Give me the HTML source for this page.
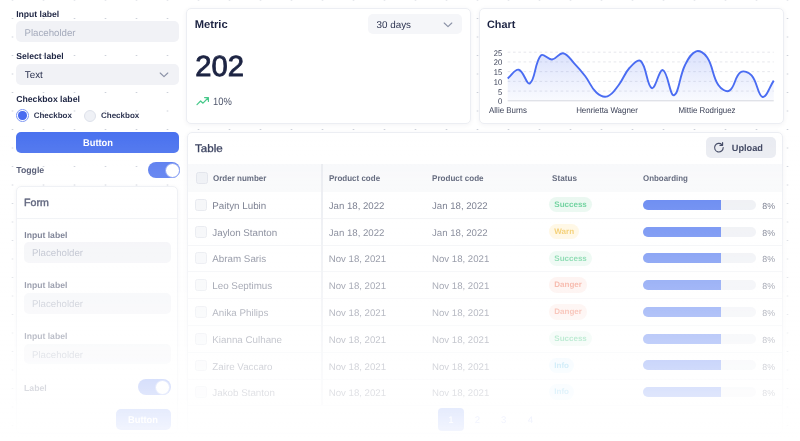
<!DOCTYPE html>
<html><head><meta charset="utf-8"><style>
html,body{margin:0;padding:0}
body{width:800px;height:441px;overflow:hidden;position:relative;background:#fff;font-family:"Liberation Sans",sans-serif;text-rendering:geometricPrecision}
.t{position:absolute;white-space:nowrap}
.b{position:absolute}
.dots{position:absolute;left:0;top:0;width:800px;height:441px;background-image:radial-gradient(ellipse 1.2px 0.75px at 15.5px 9.25px,#cdd1da 0,#cdd1da 45%,rgba(205,209,218,0) 100%);background-size:31px 18.5px;background-position:-3px -9.25px}
.fade{position:absolute;left:0;top:0;width:800px;height:441px;background:linear-gradient(to bottom,rgba(255,255,255,0) 132px,rgba(255,255,255,1) 453px);pointer-events:none}
</style></head><body>
<div class="dots"></div>
<div style="position:absolute;left:0;top:0;width:800px;height:441px;will-change:transform">
<div class="t" style="left:16.20px;top:10px;font-size:8.62px;line-height:8.62px;font-weight:700;color:#1f2644;">Input label</div>
<div class="b" style="left:16.00px;top:21.40px;width:162.50px;height:20.90px;background:#f1f2f6;border-radius:5px"></div>
<div class="t" style="left:24.50px;top:29px;font-size:9.68px;line-height:9.68px;font-weight:400;color:#a4aabb;">Placeholder</div>
<div class="t" style="left:16.30px;top:52px;font-size:8.65px;line-height:8.65px;font-weight:700;color:#1f2644;">Select label</div>
<div class="b" style="left:16.00px;top:63.70px;width:162.50px;height:21.30px;background:#f1f2f6;border-radius:5px"></div>
<div class="t" style="left:24.80px;top:71px;font-size:9.80px;line-height:9.80px;font-weight:400;color:#2c3350;">Text</div>
<svg class="b" style="left:159px;top:71px" width="10" height="8" viewBox="0 0 10 8"><path d="M1.2 2 L5 5.6 L8.8 2" fill="none" stroke="#8a91a6" stroke-width="1.1" stroke-linecap="round" stroke-linejoin="round"/></svg>
<div class="t" style="left:16.20px;top:95px;font-size:8.70px;line-height:8.70px;font-weight:700;color:#1f2644;">Checkbox label</div>
<div class="b" style="left:16.2px;top:109.1px;width:12.8px;height:12.8px;border-radius:50%;box-sizing:border-box;border:1.2px solid #7d97f3;background:#fff"></div>
<div class="b" style="left:18.45px;top:111.35px;width:8.3px;height:8.3px;border-radius:50%;background:#4a6cf0"></div>
<div class="t" style="left:33.70px;top:112px;font-size:8.00px;line-height:8.00px;font-weight:700;color:#2c3350;">Checkbox</div>
<div class="b" style="left:83.9px;top:109.8px;width:12px;height:12px;border-radius:50%;box-sizing:border-box;border:1px solid #dde1ea;background:#eff1f6"></div>
<div class="t" style="left:101.00px;top:112px;font-size:8.00px;line-height:8.00px;font-weight:700;color:#2c3350;">Checkbox</div>
<div class="b" style="left:16.10px;top:132.00px;width:163.30px;height:20.80px;background:#4a72ef;border-radius:5px"></div>
<div class="t" style="left:37.75px;width:120px;text-align:center;top:139px;font-size:9.80px;line-height:9.80px;font-weight:700;color:#fff;transform:scaleX(0.9501);">Button</div>
<div class="t" style="left:16.30px;top:166px;font-size:8.71px;line-height:8.71px;font-weight:700;color:#454c68;">Toggle</div>
<div class="b" style="left:147.80px;top:161.80px;width:32.30px;height:16.20px;background:#5276ef;border-radius:9px"></div>
<div class="b" style="left:164.5px;top:162.5px;width:15px;height:15px;border-radius:50%;box-sizing:border-box;border:1px solid #7d97f3;background:#fff"></div>
<div class="b" style="left:16.20px;top:186.10px;width:161.80px;height:247.90px;background:#fff;border:1px solid #eceef3;border-radius:5px;box-sizing:border-box;box-shadow:0 1px 4px rgba(30,40,80,0.05)"></div>
<div class="t" style="left:24.30px;top:199px;font-size:10.40px;line-height:10.40px;font-weight:400;color:#363d5c;-webkit-text-stroke:0.45px #363d5c;transform:scaleX(1.0212);transform-origin:0 50%;">Form</div>
<div class="b" style="left:17.00px;top:218.00px;width:160.00px;height:1.00px;background:#eef0f4"></div>
<div class="t" style="left:24.30px;top:231px;font-size:8.62px;line-height:8.62px;font-weight:700;color:#454c68;">Input label</div>
<div class="b" style="left:24.00px;top:242.00px;width:146.50px;height:20.60px;background:#f1f2f6;border-radius:5px"></div>
<div class="t" style="left:32.00px;top:249px;font-size:9.68px;line-height:9.68px;font-weight:400;color:#a4aabb;">Placeholder</div>
<div class="t" style="left:24.30px;top:281px;font-size:8.62px;line-height:8.62px;font-weight:700;color:#454c68;">Input label</div>
<div class="b" style="left:24.00px;top:293.00px;width:146.50px;height:20.60px;background:#f1f2f6;border-radius:5px"></div>
<div class="t" style="left:32.00px;top:300px;font-size:9.68px;line-height:9.68px;font-weight:400;color:#a4aabb;">Placeholder</div>
<div class="t" style="left:24.30px;top:332px;font-size:8.62px;line-height:8.62px;font-weight:700;color:#454c68;">Input label</div>
<div class="b" style="left:24.00px;top:343.50px;width:146.50px;height:20.60px;background:#f1f2f6;border-radius:5px"></div>
<div class="t" style="left:32.00px;top:351px;font-size:9.68px;line-height:9.68px;font-weight:400;color:#a4aabb;">Placeholder</div>
<div class="t" style="left:24.00px;top:384px;font-size:8.70px;line-height:8.70px;font-weight:700;color:#454c68;">Label</div>
<div class="b" style="left:138.30px;top:379.00px;width:32.40px;height:16.00px;background:#5276ef;border-radius:9px"></div>
<div class="b" style="left:155px;top:379.6px;width:15px;height:15px;border-radius:50%;box-sizing:border-box;border:1px solid #7d97f3;background:#fff"></div>
<div class="b" style="left:115.80px;top:409.30px;width:54.90px;height:21.10px;background:#4a72ef;border-radius:5px"></div>
<div class="t" style="left:83.25px;width:120px;text-align:center;top:416px;font-size:9.80px;line-height:9.80px;font-weight:700;color:#fff;transform:scaleX(0.9501);">Button</div>
<div class="b" style="left:186.40px;top:8.00px;width:284.60px;height:115.90px;background:#fff;border:1px solid #eceef3;border-radius:5px;box-sizing:border-box;box-shadow:0 1px 5px rgba(30,40,80,0.055)"></div>
<div class="t" style="left:194.80px;top:20px;font-size:11.17px;line-height:11.17px;font-weight:700;color:#1d2443;">Metric</div>
<div class="b" style="left:368.20px;top:14.00px;width:94.20px;height:20.20px;background:#f5f6f9;border-radius:5px"></div>
<div class="t" style="left:376.50px;top:21px;font-size:9.85px;line-height:9.85px;font-weight:400;color:#2c3350;">30 days</div>
<svg class="b" style="left:443px;top:21px" width="10" height="8" viewBox="0 0 10 8"><path d="M1.2 2 L5 5.6 L8.8 2" fill="none" stroke="#8a91a6" stroke-width="1.1" stroke-linecap="round" stroke-linejoin="round"/></svg>
<div class="t" style="left:195.30px;top:53px;font-size:29.20px;line-height:29.20px;font-weight:400;color:#1d2443;-webkit-text-stroke:0.85px #1d2443">202</div>
<svg class="b" style="left:196px;top:96px" width="14" height="10" viewBox="0 0 14 10"><path d="M1 8.6 L4.6 5 L7 7.2 L12 2 M8.6 1.6 H12.4 V5.4" fill="none" stroke="#48c98b" stroke-width="1.2" stroke-linecap="round" stroke-linejoin="round"/></svg>
<div class="t" style="left:213.40px;top:97px;font-size:10.60px;line-height:10.60px;font-weight:400;color:#4f566c;transform:scaleX(0.8861);transform-origin:0 50%;">10%</div>
<div class="b" style="left:478.60px;top:8.00px;width:305.00px;height:115.90px;background:#fff;border:1px solid #eceef3;border-radius:5px;box-sizing:border-box;box-shadow:0 1px 5px rgba(30,40,80,0.055)"></div>
<div class="t" style="left:487.00px;top:20px;font-size:10.87px;line-height:10.87px;font-weight:700;color:#1d2443;">Chart</div>
<svg class="b" style="left:0;top:0" width="800" height="130" viewBox="0 0 800 130"><defs><linearGradient id="fg" x1="0" y1="52" x2="0" y2="101" gradientUnits="userSpaceOnUse"><stop offset="0" stop-color="#4a6cf0" stop-opacity="0.2"/><stop offset="1" stop-color="#4a6cf0" stop-opacity="0.03"/></linearGradient></defs><line x1="507.7" y1="91.08" x2="773.74" y2="91.08" stroke="#dfe1e7" stroke-width="0.8" stroke-dasharray="2.6 2.7"/><line x1="507.7" y1="81.36" x2="773.74" y2="81.36" stroke="#dfe1e7" stroke-width="0.8" stroke-dasharray="2.6 2.7"/><line x1="507.7" y1="71.64" x2="773.74" y2="71.64" stroke="#dfe1e7" stroke-width="0.8" stroke-dasharray="2.6 2.7"/><line x1="507.7" y1="61.92" x2="773.74" y2="61.92" stroke="#dfe1e7" stroke-width="0.8" stroke-dasharray="2.6 2.7"/><line x1="507.7" y1="52.20" x2="773.74" y2="52.20" stroke="#dfe1e7" stroke-width="0.8" stroke-dasharray="2.6 2.7"/><path d="M507.70,78.44 C512.13,74.94 514.84,68.82 518.78,69.70 C523.70,70.78 526.60,85.46 529.87,83.34 C535.47,79.73 534.59,62.21 540.96,55.37 C543.46,52.68 547.77,59.92 552.04,59.51 C556.64,59.07 559.05,52.53 563.12,53.23 C567.92,54.05 570.06,59.01 574.21,63.32 C578.93,68.22 581.18,70.84 585.29,76.27 C590.05,82.53 590.82,87.51 596.38,92.54 C599.69,95.53 603.67,97.56 607.47,96.31 C612.54,94.64 614.73,90.15 618.55,85.23 C623.60,78.73 624.18,73.70 629.63,67.75 C633.05,64.03 638.00,58.54 640.72,61.05 C646.87,66.70 646.66,86.04 651.81,88.14 C655.53,89.67 659.03,68.87 662.89,70.10 C667.90,71.71 669.89,96.20 673.98,95.26 C678.76,94.15 679.32,76.35 685.06,64.97 C688.19,58.77 690.99,53.06 696.14,51.31 C699.86,50.04 704.58,53.40 707.23,57.43 C713.44,66.86 712.07,75.58 718.32,84.94 C720.94,88.87 726.14,92.51 729.40,90.65 C735.00,87.46 734.71,76.33 740.49,72.32 C743.58,70.17 748.74,72.10 751.57,75.26 C757.60,81.98 757.76,95.83 762.65,97.01 C766.63,97.97 769.31,87.16 773.74,80.60 L773.74,100.8 L507.7,100.8 Z" fill="url(#fg)"/><line x1="507.7" y1="100.8" x2="773.74" y2="100.8" stroke="#d5d8df" stroke-width="1"/><path d="M507.70,78.44 C512.13,74.94 514.84,68.82 518.78,69.70 C523.70,70.78 526.60,85.46 529.87,83.34 C535.47,79.73 534.59,62.21 540.96,55.37 C543.46,52.68 547.77,59.92 552.04,59.51 C556.64,59.07 559.05,52.53 563.12,53.23 C567.92,54.05 570.06,59.01 574.21,63.32 C578.93,68.22 581.18,70.84 585.29,76.27 C590.05,82.53 590.82,87.51 596.38,92.54 C599.69,95.53 603.67,97.56 607.47,96.31 C612.54,94.64 614.73,90.15 618.55,85.23 C623.60,78.73 624.18,73.70 629.63,67.75 C633.05,64.03 638.00,58.54 640.72,61.05 C646.87,66.70 646.66,86.04 651.81,88.14 C655.53,89.67 659.03,68.87 662.89,70.10 C667.90,71.71 669.89,96.20 673.98,95.26 C678.76,94.15 679.32,76.35 685.06,64.97 C688.19,58.77 690.99,53.06 696.14,51.31 C699.86,50.04 704.58,53.40 707.23,57.43 C713.44,66.86 712.07,75.58 718.32,84.94 C720.94,88.87 726.14,92.51 729.40,90.65 C735.00,87.46 734.71,76.33 740.49,72.32 C743.58,70.17 748.74,72.10 751.57,75.26 C757.60,81.98 757.76,95.83 762.65,97.01 C766.63,97.97 769.31,87.16 773.74,80.60" fill="none" stroke="#4a6cf2" stroke-width="1.9"/></svg>
<div class="t" style="left:470px;width:32.2px;text-align:right;top:98px;font-size:8.2px;line-height:8.2px;color:#3b4157;transform:scaleX(0.92);transform-origin:100% 50%">0</div>
<div class="t" style="left:470px;width:32.2px;text-align:right;top:89px;font-size:8.2px;line-height:8.2px;color:#3b4157;transform:scaleX(0.92);transform-origin:100% 50%">5</div>
<div class="t" style="left:470px;width:32.2px;text-align:right;top:79px;font-size:8.2px;line-height:8.2px;color:#3b4157;transform:scaleX(0.92);transform-origin:100% 50%">10</div>
<div class="t" style="left:470px;width:32.2px;text-align:right;top:69px;font-size:8.2px;line-height:8.2px;color:#3b4157;transform:scaleX(0.92);transform-origin:100% 50%">15</div>
<div class="t" style="left:470px;width:32.2px;text-align:right;top:59px;font-size:8.2px;line-height:8.2px;color:#3b4157;transform:scaleX(0.92);transform-origin:100% 50%">20</div>
<div class="t" style="left:470px;width:32.2px;text-align:right;top:50px;font-size:8.2px;line-height:8.2px;color:#3b4157;transform:scaleX(0.92);transform-origin:100% 50%">25</div>
<div class="t" style="left:457.70px;width:100px;text-align:center;top:106px;font-size:8.4px;line-height:8.4px;color:#3b4157;transform:scaleX(0.945)">Allie Burns</div>
<div class="t" style="left:557.47px;width:100px;text-align:center;top:106px;font-size:8.4px;line-height:8.4px;color:#3b4157;transform:scaleX(0.945)">Henrietta Wagner</div>
<div class="t" style="left:657.23px;width:100px;text-align:center;top:106px;font-size:8.4px;line-height:8.4px;color:#3b4157;transform:scaleX(0.945)">Mittie Rodriguez</div>
<div class="b" style="left:186.80px;top:132.40px;width:596.70px;height:301.60px;background:#fff;border:1px solid #eceef3;border-radius:5px;box-sizing:border-box;box-shadow:0 1px 5px rgba(30,40,80,0.055)"></div>
<div class="t" style="left:195.30px;top:144px;font-size:10.90px;line-height:10.90px;font-weight:400;color:#323a59;-webkit-text-stroke:0.3px #323a59;transform:scaleX(1.0630);transform-origin:0 50%;">Table</div>
<div class="b" style="left:706.20px;top:137.30px;width:69.70px;height:20.60px;background:#eaecf2;border-radius:5px"></div>
<svg class="b" style="left:713px;top:142.4px" width="12" height="11" viewBox="0 0 12 11"><path d="M10.2 5.6 A4.3 4.3 0 1 1 8.9 2.6" fill="none" stroke="#3d4460" stroke-width="1.15" stroke-linecap="round"/><path d="M9.6 0.6 V3.3 H6.9" fill="none" stroke="#3d4460" stroke-width="1.15" stroke-linecap="round" stroke-linejoin="round"/></svg>
<div class="t" style="left:731.80px;top:144px;font-size:9.21px;line-height:9.21px;font-weight:700;color:#3a415d;">Upload</div>
<div class="b" style="left:187.80px;top:164.40px;width:594.70px;height:27.20px;background:#f8f9fb"></div>
<div class="b" style="left:196.3px;top:172.3px;width:11.7px;height:11.7px;border-radius:2.5px;box-sizing:border-box;border:1px solid #dfe2ea;background:#eef0f5"></div>
<div class="t" style="left:212.80px;top:174px;font-size:8.40px;line-height:8.40px;font-weight:700;color:#4d546b;transform:scaleX(0.9551);transform-origin:0 50%;">Order number</div>
<div class="t" style="left:328.75px;top:174px;font-size:8.40px;line-height:8.40px;font-weight:700;color:#4d546b;transform:scaleX(0.9547);transform-origin:0 50%;">Product code</div>
<div class="t" style="left:432.00px;top:174px;font-size:8.40px;line-height:8.40px;font-weight:700;color:#4d546b;transform:scaleX(0.9640);transform-origin:0 50%;">Product code</div>
<div class="t" style="left:552.00px;top:174px;font-size:8.40px;line-height:8.40px;font-weight:700;color:#4d546b;transform:scaleX(0.9738);transform-origin:0 50%;">Status</div>
<div class="t" style="left:643.00px;top:174px;font-size:8.40px;line-height:8.40px;font-weight:700;color:#4d546b;transform:scaleX(0.9453);transform-origin:0 50%;">Onboarding</div>
<div class="b" style="left:187.80px;top:217.88px;width:594.70px;height:1.00px;background:#f0f1f5"></div>
<div class="b" style="left:195.3px;top:198.90px;width:11.9px;height:11.9px;border-radius:2.5px;box-sizing:border-box;border:1px solid #e2e5ec;background:#f4f5f8"></div>
<div class="t" style="left:212.30px;top:202px;font-size:9.81px;line-height:9.81px;font-weight:400;color:#565c72;">Paityn Lubin</div>
<div class="t" style="left:328.75px;top:202px;font-size:9.64px;line-height:9.64px;font-weight:400;color:#565c72;">Jan 18, 2022</div>
<div class="t" style="left:432.00px;top:202px;font-size:9.64px;line-height:9.64px;font-weight:400;color:#565c72;">Jan 18, 2022</div>
<div class="t" style="left:549px;top:197.00px;height:15.4px;line-height:15.4px;padding:0 5.3px;border-radius:8px;background:#e6f7ee;color:#4cc887;font-size:8.03px;font-weight:700">Success</div>
<div class="b" style="left:643.00px;top:199.75px;width:113.25px;height:10.00px;background:#eceef3;border-radius:5px"></div>
<div class="b" style="left:643.00px;top:199.75px;width:77.90px;height:10.00px;background:#4a72ef;border-radius:5px 0 0 5px"></div>
<div class="t" style="left:762.25px;top:202px;font-size:8.82px;line-height:8.82px;font-weight:400;color:#565c72;">8%</div>
<div class="b" style="left:187.80px;top:244.66px;width:594.70px;height:1.00px;background:#f0f1f5"></div>
<div class="b" style="left:195.3px;top:225.68px;width:11.9px;height:11.9px;border-radius:2.5px;box-sizing:border-box;border:1px solid #e2e5ec;background:#f4f5f8"></div>
<div class="t" style="left:212.30px;top:229px;font-size:9.81px;line-height:9.81px;font-weight:400;color:#565c72;">Jaylon Stanton</div>
<div class="t" style="left:328.75px;top:229px;font-size:9.64px;line-height:9.64px;font-weight:400;color:#565c72;">Jan 18, 2022</div>
<div class="t" style="left:432.00px;top:229px;font-size:9.64px;line-height:9.64px;font-weight:400;color:#565c72;">Jan 18, 2022</div>
<div class="t" style="left:549px;top:223.78px;height:15.4px;line-height:15.4px;padding:0 5.3px;border-radius:8px;background:#fff5dc;color:#f0bd3e;font-size:8.03px;font-weight:700">Warn</div>
<div class="b" style="left:643.00px;top:226.53px;width:113.25px;height:10.00px;background:#eceef3;border-radius:5px"></div>
<div class="b" style="left:643.00px;top:226.53px;width:77.90px;height:10.00px;background:#4a72ef;border-radius:5px 0 0 5px"></div>
<div class="t" style="left:762.25px;top:229px;font-size:8.82px;line-height:8.82px;font-weight:400;color:#565c72;">8%</div>
<div class="b" style="left:187.80px;top:271.44px;width:594.70px;height:1.00px;background:#f0f1f5"></div>
<div class="b" style="left:195.3px;top:252.46px;width:11.9px;height:11.9px;border-radius:2.5px;box-sizing:border-box;border:1px solid #e2e5ec;background:#f4f5f8"></div>
<div class="t" style="left:212.30px;top:255px;font-size:9.81px;line-height:9.81px;font-weight:400;color:#565c72;">Abram Saris</div>
<div class="t" style="left:328.75px;top:255px;font-size:9.64px;line-height:9.64px;font-weight:400;color:#565c72;">Nov 18, 2021</div>
<div class="t" style="left:432.00px;top:255px;font-size:9.64px;line-height:9.64px;font-weight:400;color:#565c72;">Nov 18, 2021</div>
<div class="t" style="left:549px;top:250.56px;height:15.4px;line-height:15.4px;padding:0 5.3px;border-radius:8px;background:#e6f7ee;color:#4cc887;font-size:8.03px;font-weight:700">Success</div>
<div class="b" style="left:643.00px;top:253.31px;width:113.25px;height:10.00px;background:#eceef3;border-radius:5px"></div>
<div class="b" style="left:643.00px;top:253.31px;width:77.90px;height:10.00px;background:#4a72ef;border-radius:5px 0 0 5px"></div>
<div class="t" style="left:762.25px;top:255px;font-size:8.82px;line-height:8.82px;font-weight:400;color:#565c72;">8%</div>
<div class="b" style="left:187.80px;top:298.22px;width:594.70px;height:1.00px;background:#f0f1f5"></div>
<div class="b" style="left:195.3px;top:279.24px;width:11.9px;height:11.9px;border-radius:2.5px;box-sizing:border-box;border:1px solid #e2e5ec;background:#f4f5f8"></div>
<div class="t" style="left:212.30px;top:282px;font-size:9.81px;line-height:9.81px;font-weight:400;color:#565c72;">Leo Septimus</div>
<div class="t" style="left:328.75px;top:282px;font-size:9.64px;line-height:9.64px;font-weight:400;color:#565c72;">Nov 18, 2021</div>
<div class="t" style="left:432.00px;top:282px;font-size:9.64px;line-height:9.64px;font-weight:400;color:#565c72;">Nov 18, 2021</div>
<div class="t" style="left:549px;top:277.34px;height:15.4px;line-height:15.4px;padding:0 5.3px;border-radius:8px;background:#fdebe7;color:#f07f67;font-size:8.03px;font-weight:700">Danger</div>
<div class="b" style="left:643.00px;top:280.09px;width:113.25px;height:10.00px;background:#eceef3;border-radius:5px"></div>
<div class="b" style="left:643.00px;top:280.09px;width:77.90px;height:10.00px;background:#4a72ef;border-radius:5px 0 0 5px"></div>
<div class="t" style="left:762.25px;top:282px;font-size:8.82px;line-height:8.82px;font-weight:400;color:#565c72;">8%</div>
<div class="b" style="left:187.80px;top:325.00px;width:594.70px;height:1.00px;background:#f0f1f5"></div>
<div class="b" style="left:195.3px;top:306.02px;width:11.9px;height:11.9px;border-radius:2.5px;box-sizing:border-box;border:1px solid #e2e5ec;background:#f4f5f8"></div>
<div class="t" style="left:212.30px;top:309px;font-size:9.81px;line-height:9.81px;font-weight:400;color:#565c72;">Anika Philips</div>
<div class="t" style="left:328.75px;top:309px;font-size:9.64px;line-height:9.64px;font-weight:400;color:#565c72;">Nov 18, 2021</div>
<div class="t" style="left:432.00px;top:309px;font-size:9.64px;line-height:9.64px;font-weight:400;color:#565c72;">Nov 18, 2021</div>
<div class="t" style="left:549px;top:304.12px;height:15.4px;line-height:15.4px;padding:0 5.3px;border-radius:8px;background:#fdebe7;color:#f07f67;font-size:8.03px;font-weight:700">Danger</div>
<div class="b" style="left:643.00px;top:306.87px;width:113.25px;height:10.00px;background:#eceef3;border-radius:5px"></div>
<div class="b" style="left:643.00px;top:306.87px;width:77.90px;height:10.00px;background:#4a72ef;border-radius:5px 0 0 5px"></div>
<div class="t" style="left:762.25px;top:309px;font-size:8.82px;line-height:8.82px;font-weight:400;color:#565c72;">8%</div>
<div class="b" style="left:187.80px;top:351.78px;width:594.70px;height:1.00px;background:#f0f1f5"></div>
<div class="b" style="left:195.3px;top:332.80px;width:11.9px;height:11.9px;border-radius:2.5px;box-sizing:border-box;border:1px solid #e2e5ec;background:#f4f5f8"></div>
<div class="t" style="left:212.30px;top:336px;font-size:9.81px;line-height:9.81px;font-weight:400;color:#565c72;">Kianna Culhane</div>
<div class="t" style="left:328.75px;top:336px;font-size:9.64px;line-height:9.64px;font-weight:400;color:#565c72;">Nov 18, 2021</div>
<div class="t" style="left:432.00px;top:336px;font-size:9.64px;line-height:9.64px;font-weight:400;color:#565c72;">Nov 18, 2021</div>
<div class="t" style="left:549px;top:330.90px;height:15.4px;line-height:15.4px;padding:0 5.3px;border-radius:8px;background:#e6f7ee;color:#4cc887;font-size:8.03px;font-weight:700">Success</div>
<div class="b" style="left:643.00px;top:333.65px;width:113.25px;height:10.00px;background:#eceef3;border-radius:5px"></div>
<div class="b" style="left:643.00px;top:333.65px;width:77.90px;height:10.00px;background:#4a72ef;border-radius:5px 0 0 5px"></div>
<div class="t" style="left:762.25px;top:336px;font-size:8.82px;line-height:8.82px;font-weight:400;color:#565c72;">8%</div>
<div class="b" style="left:187.80px;top:378.56px;width:594.70px;height:1.00px;background:#f0f1f5"></div>
<div class="b" style="left:195.3px;top:359.58px;width:11.9px;height:11.9px;border-radius:2.5px;box-sizing:border-box;border:1px solid #e2e5ec;background:#f4f5f8"></div>
<div class="t" style="left:212.30px;top:363px;font-size:9.81px;line-height:9.81px;font-weight:400;color:#565c72;">Zaire Vaccaro</div>
<div class="t" style="left:328.75px;top:363px;font-size:9.64px;line-height:9.64px;font-weight:400;color:#565c72;">Nov 18, 2021</div>
<div class="t" style="left:432.00px;top:363px;font-size:9.64px;line-height:9.64px;font-weight:400;color:#565c72;">Nov 18, 2021</div>
<div class="t" style="left:549px;top:357.68px;height:15.4px;line-height:15.4px;padding:0 5.3px;border-radius:8px;background:#e5f5fd;color:#5bbde8;font-size:8.03px;font-weight:700">Info</div>
<div class="b" style="left:643.00px;top:360.43px;width:113.25px;height:10.00px;background:#eceef3;border-radius:5px"></div>
<div class="b" style="left:643.00px;top:360.43px;width:77.90px;height:10.00px;background:#4a72ef;border-radius:5px 0 0 5px"></div>
<div class="t" style="left:762.25px;top:363px;font-size:8.82px;line-height:8.82px;font-weight:400;color:#565c72;">8%</div>
<div class="b" style="left:187.80px;top:405.34px;width:594.70px;height:1.00px;background:#f0f1f5"></div>
<div class="b" style="left:195.3px;top:386.36px;width:11.9px;height:11.9px;border-radius:2.5px;box-sizing:border-box;border:1px solid #e2e5ec;background:#f4f5f8"></div>
<div class="t" style="left:212.30px;top:389px;font-size:9.81px;line-height:9.81px;font-weight:400;color:#565c72;">Jakob Stanton</div>
<div class="t" style="left:328.75px;top:389px;font-size:9.64px;line-height:9.64px;font-weight:400;color:#565c72;">Nov 18, 2021</div>
<div class="t" style="left:432.00px;top:389px;font-size:9.64px;line-height:9.64px;font-weight:400;color:#565c72;">Nov 18, 2021</div>
<div class="t" style="left:549px;top:384.46px;height:15.4px;line-height:15.4px;padding:0 5.3px;border-radius:8px;background:#e5f5fd;color:#5bbde8;font-size:8.03px;font-weight:700">Info</div>
<div class="b" style="left:643.00px;top:387.21px;width:113.25px;height:10.00px;background:#eceef3;border-radius:5px"></div>
<div class="b" style="left:643.00px;top:387.21px;width:77.90px;height:10.00px;background:#4a72ef;border-radius:5px 0 0 5px"></div>
<div class="t" style="left:762.25px;top:389px;font-size:8.82px;line-height:8.82px;font-weight:400;color:#565c72;">8%</div>
<div class="b" style="left:321.30px;top:164.40px;width:1.90px;height:241.00px;background:#e9ebf0"></div>
<div class="b" style="left:438.00px;top:408.10px;width:26.00px;height:23.40px;background:#4a72ef;border-radius:4px"></div>
<div class="t" style="left:441.00px;width:20px;text-align:center;top:416px;font-size:9.60px;line-height:9.60px;font-weight:400;color:#fff;">1</div>
<div class="t" style="left:467.40px;width:20px;text-align:center;top:416px;font-size:9.60px;line-height:9.60px;font-weight:400;color:#6f86ea;">2</div>
<div class="t" style="left:493.60px;width:20px;text-align:center;top:416px;font-size:9.60px;line-height:9.60px;font-weight:400;color:#6f86ea;">3</div>
<div class="t" style="left:520.30px;width:20px;text-align:center;top:416px;font-size:9.60px;line-height:9.60px;font-weight:400;color:#6f86ea;">4</div>
</div>
<div class="fade"></div>
</body></html>
